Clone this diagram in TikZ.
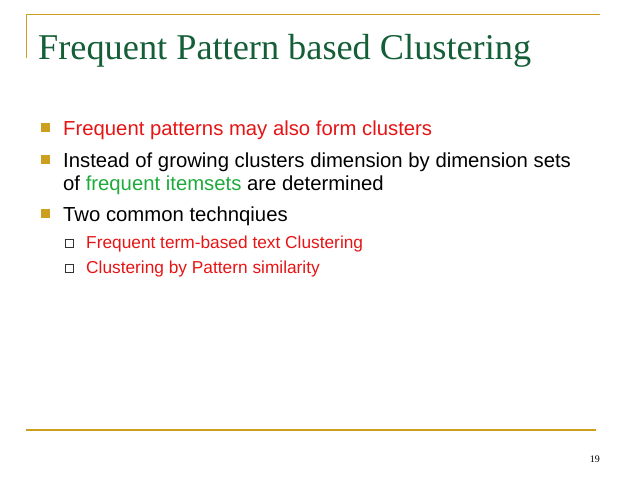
\documentclass[tikz,border=0pt]{standalone}
\usepackage{fontspec}
\setmainfont{Liberation Serif}
\setsansfont{Liberation Sans}
\usetikzlibrary{shadows}
\definecolor{gold}{RGB}{204,160,30}
\definecolor{ttl}{RGB}{20,95,55}
\definecolor{red}{RGB}{230,20,20}
\definecolor{grn}{RGB}{30,170,60}
\tikzset{txt/.style={anchor=base west,inner sep=0pt,font=\sffamily\fontsize{20.3}{24}\selectfont},
sub/.style={anchor=base west,inner sep=0pt,font=\sffamily\fontsize{17.3}{20}\selectfont},
bul/.style={fill=gold,minimum size=9pt,inner sep=0pt},
sbul/.style={draw=black!80,fill=white,minimum size=8pt,inner sep=0pt,line width=0.7pt,drop shadow={shadow xshift=1.2pt,shadow yshift=-1.2pt,fill=black!70,opacity=1}}}
\begin{document}
\begin{tikzpicture}[x=1pt,y=-1pt]
\useasboundingbox (0,0) rectangle (638,478);
\draw[gold,line width=1pt] (26,58) -- (26,15) -- (600,15);
\draw[gold,line width=1.2pt] (26,430) -- (596,430);
\node[anchor=base west,inner sep=0pt,text=ttl,font=\fontsize{36.3}{40}\selectfont] (t) at (38,60) {Frequent Pattern based Clustering};
\node[bul] (b1) at (45,128) {}; \node[txt,text=red] (l1) at (63,136) {Frequent patterns may also form clusters};
\node[bul] (b2) at (45,160) {}; \node[txt] (l2) at (63,168) {Instead of growing clusters dimension by dimension sets};
\node[txt] (l3) at (63,191) {of \textcolor{grn}{frequent itemsets} are determined};
\node[bul] (b3) at (45,214) {}; \node[txt] (l4) at (63,222) {Two common technqiues};
\node[sbul] (s1) at (69,243) {}; \node[sub,text=red] (l5) at (86,249) {Frequent term-based text Clustering};
\node[sbul] (s2) at (69,268) {}; \node[sub,text=red] (l6) at (86,274) {Clustering by Pattern similarity};
\node[anchor=base east,inner sep=0pt,font=\fontsize{10}{12}\selectfont] (pg) at (600,463) {19};
\end{tikzpicture}
\end{document}
